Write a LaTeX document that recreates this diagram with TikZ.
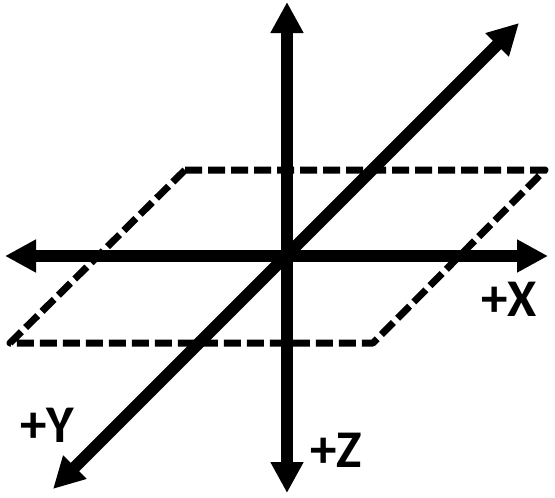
\documentclass[tikz,border=0pt]{standalone}
\usepackage{fontspec}
\setmainfont{Carlito}
\usetikzlibrary{arrows.meta}
\begin{document}
\begin{tikzpicture}[x=1pt, y=-1pt,
  axis/.style={line width=12pt, {Triangle[length=31pt,width=31pt]}-{Triangle[length=31pt,width=31pt]}},
  plane/.style={line width=7pt, dash pattern=on 17pt off 6pt, line join=round},
  axlabel/.style={font=\fontsize{53}{58}\selectfont\bfseries, inner sep=0pt}]
\useasboundingbox (0,0) rectangle (555,498);
\coordinate (xl) at (5,256);   \coordinate (xr) at (548,256);
\coordinate (zt) at (287,2);   \coordinate (zb) at (287,493);
\coordinate (yb) at (53,489);  \coordinate (yt) at (519,23);
\coordinate (p1) at (185,170); \coordinate (p2) at (545,170);
\coordinate (p3) at (373,343); \coordinate (p4) at (10,343);
% plane
\draw[plane] (p1) -- (p2) -- (p3) -- (p4) -- cycle;
% axes
\draw[axis] (xl) -- (xr);
\draw[axis] (zt) -- (zb);
\draw[axis] (yb) -- (yt);
\node[axlabel] (labx) at (509,299) {+X};
\node[axlabel] (laby) at (47,425) {+Y};
\node[axlabel] (labz) at (336,450) {+Z};
\end{tikzpicture}
\end{document}
